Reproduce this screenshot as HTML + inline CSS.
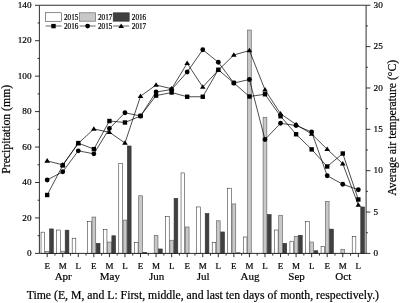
<!DOCTYPE html>
<html><head><meta charset="utf-8"><title>Precipitation and average air temperature</title>
<style>html,body{margin:0;padding:0;background:#fff}body{width:400px;height:303px;overflow:hidden}</style></head>
<body>
<svg width="400" height="303" viewBox="0 0 400 303" style="display:block">
<rect width="400" height="303" fill="#fff"/>
<rect x="41.03" y="232.13" width="3.70" height="21.27" fill="#ffffff" stroke="#000000" stroke-width="0.45"/>
<rect x="45.33" y="251.63" width="3.70" height="1.77" fill="#c8c8c8" stroke="#6a6a6a" stroke-width="0.7"/>
<rect x="49.63" y="228.94" width="3.70" height="24.46" fill="#404040" stroke="#303030" stroke-width="0.6"/>
<rect x="56.59" y="230.00" width="3.70" height="23.40" fill="#ffffff" stroke="#000000" stroke-width="0.45"/>
<rect x="60.89" y="251.27" width="3.70" height="2.13" fill="#c8c8c8" stroke="#6a6a6a" stroke-width="0.7"/>
<rect x="65.19" y="230.18" width="3.70" height="23.22" fill="#404040" stroke="#303030" stroke-width="0.6"/>
<rect x="72.14" y="238.16" width="3.70" height="15.24" fill="#ffffff" stroke="#000000" stroke-width="0.45"/>
<rect x="87.70" y="221.32" width="3.70" height="32.08" fill="#ffffff" stroke="#000000" stroke-width="0.45"/>
<rect x="92.00" y="217.06" width="3.70" height="36.34" fill="#c8c8c8" stroke="#6a6a6a" stroke-width="0.7"/>
<rect x="96.30" y="243.30" width="3.70" height="10.10" fill="#404040" stroke="#303030" stroke-width="0.6"/>
<rect x="103.26" y="229.47" width="3.70" height="23.93" fill="#ffffff" stroke="#000000" stroke-width="0.45"/>
<rect x="107.56" y="242.06" width="3.70" height="11.34" fill="#c8c8c8" stroke="#6a6a6a" stroke-width="0.7"/>
<rect x="111.86" y="235.76" width="3.70" height="17.64" fill="#404040" stroke="#303030" stroke-width="0.6"/>
<rect x="118.81" y="163.53" width="3.70" height="89.87" fill="#ffffff" stroke="#000000" stroke-width="0.45"/>
<rect x="123.11" y="220.08" width="3.70" height="33.32" fill="#c8c8c8" stroke="#6a6a6a" stroke-width="0.7"/>
<rect x="127.41" y="145.99" width="3.70" height="107.41" fill="#404040" stroke="#303030" stroke-width="0.6"/>
<rect x="134.37" y="242.77" width="3.70" height="10.63" fill="#ffffff" stroke="#000000" stroke-width="0.45"/>
<rect x="138.67" y="195.79" width="3.70" height="57.61" fill="#c8c8c8" stroke="#6a6a6a" stroke-width="0.7"/>
<rect x="142.97" y="252.34" width="3.70" height="1.06" fill="#404040" stroke="#303030" stroke-width="0.6"/>
<rect x="154.23" y="235.32" width="3.70" height="18.08" fill="#c8c8c8" stroke="#6a6a6a" stroke-width="0.7"/>
<rect x="158.53" y="248.97" width="3.70" height="4.43" fill="#404040" stroke="#303030" stroke-width="0.6"/>
<rect x="165.49" y="216.53" width="3.70" height="36.87" fill="#ffffff" stroke="#000000" stroke-width="0.45"/>
<rect x="169.79" y="240.28" width="3.70" height="13.12" fill="#c8c8c8" stroke="#6a6a6a" stroke-width="0.7"/>
<rect x="174.09" y="198.45" width="3.70" height="54.95" fill="#404040" stroke="#303030" stroke-width="0.6"/>
<rect x="181.04" y="172.93" width="3.70" height="80.47" fill="#ffffff" stroke="#000000" stroke-width="0.45"/>
<rect x="185.34" y="226.99" width="3.70" height="26.41" fill="#c8c8c8" stroke="#6a6a6a" stroke-width="0.7"/>
<rect x="196.60" y="206.96" width="3.70" height="46.44" fill="#ffffff" stroke="#000000" stroke-width="0.45"/>
<rect x="205.20" y="213.52" width="3.70" height="39.88" fill="#404040" stroke="#303030" stroke-width="0.6"/>
<rect x="212.16" y="242.77" width="3.70" height="10.63" fill="#ffffff" stroke="#000000" stroke-width="0.45"/>
<rect x="216.46" y="220.79" width="3.70" height="32.61" fill="#c8c8c8" stroke="#6a6a6a" stroke-width="0.7"/>
<rect x="220.76" y="231.95" width="3.70" height="21.45" fill="#404040" stroke="#303030" stroke-width="0.6"/>
<rect x="227.71" y="188.17" width="3.70" height="65.23" fill="#ffffff" stroke="#000000" stroke-width="0.45"/>
<rect x="232.01" y="203.95" width="3.70" height="49.45" fill="#c8c8c8" stroke="#6a6a6a" stroke-width="0.7"/>
<rect x="236.31" y="252.87" width="3.70" height="0.53" fill="#404040" stroke="#303030" stroke-width="0.6"/>
<rect x="243.27" y="237.00" width="3.70" height="16.40" fill="#ffffff" stroke="#000000" stroke-width="0.45"/>
<rect x="247.57" y="30.06" width="3.70" height="223.34" fill="#c8c8c8" stroke="#6a6a6a" stroke-width="0.7"/>
<rect x="263.13" y="117.45" width="3.70" height="135.95" fill="#c8c8c8" stroke="#6a6a6a" stroke-width="0.7"/>
<rect x="267.43" y="214.58" width="3.70" height="38.82" fill="#404040" stroke="#303030" stroke-width="0.6"/>
<rect x="274.39" y="230.00" width="3.70" height="23.40" fill="#ffffff" stroke="#000000" stroke-width="0.45"/>
<rect x="278.69" y="215.29" width="3.70" height="38.11" fill="#c8c8c8" stroke="#6a6a6a" stroke-width="0.7"/>
<rect x="282.99" y="243.30" width="3.70" height="10.10" fill="#404040" stroke="#303030" stroke-width="0.6"/>
<rect x="289.94" y="241.17" width="3.70" height="12.23" fill="#ffffff" stroke="#000000" stroke-width="0.45"/>
<rect x="294.24" y="236.56" width="3.70" height="16.84" fill="#c8c8c8" stroke="#6a6a6a" stroke-width="0.7"/>
<rect x="298.54" y="235.32" width="3.70" height="18.08" fill="#404040" stroke="#303030" stroke-width="0.6"/>
<rect x="305.50" y="221.32" width="3.70" height="32.08" fill="#ffffff" stroke="#000000" stroke-width="0.45"/>
<rect x="309.80" y="242.06" width="3.70" height="11.34" fill="#c8c8c8" stroke="#6a6a6a" stroke-width="0.7"/>
<rect x="314.10" y="250.74" width="3.70" height="2.66" fill="#404040" stroke="#303030" stroke-width="0.6"/>
<rect x="321.06" y="246.31" width="3.70" height="7.09" fill="#ffffff" stroke="#000000" stroke-width="0.45"/>
<rect x="325.36" y="201.47" width="3.70" height="51.93" fill="#c8c8c8" stroke="#6a6a6a" stroke-width="0.7"/>
<rect x="329.66" y="229.12" width="3.70" height="24.28" fill="#404040" stroke="#303030" stroke-width="0.6"/>
<rect x="340.91" y="249.32" width="3.70" height="4.08" fill="#c8c8c8" stroke="#6a6a6a" stroke-width="0.7"/>
<rect x="352.17" y="236.74" width="3.70" height="16.66" fill="#ffffff" stroke="#000000" stroke-width="0.45"/>
<rect x="360.77" y="206.96" width="3.70" height="46.44" fill="#404040" stroke="#303030" stroke-width="0.6"/>
<g stroke="#1a1a1a" stroke-width="0.9" fill="none">
<path d="M39.4 5.25H366.1V253.4H39.4Z"/>
<path d="M35.00 253.40H39.4"/>
<path d="M37.60 235.68H39.4"/>
<path d="M35.00 217.95H39.4"/>
<path d="M37.60 200.23H39.4"/>
<path d="M35.00 182.50H39.4"/>
<path d="M37.60 164.78H39.4"/>
<path d="M35.00 147.05H39.4"/>
<path d="M37.60 129.32H39.4"/>
<path d="M35.00 111.60H39.4"/>
<path d="M37.60 93.88H39.4"/>
<path d="M35.00 76.15H39.4"/>
<path d="M37.60 58.43H39.4"/>
<path d="M35.00 40.70H39.4"/>
<path d="M37.60 22.98H39.4"/>
<path d="M35.00 5.25H39.4"/>
<path d="M366.1 253.40h4.3"/>
<path d="M366.1 232.72h1.8"/>
<path d="M366.1 212.04h4.3"/>
<path d="M366.1 191.36h1.8"/>
<path d="M366.1 170.68h4.3"/>
<path d="M366.1 150.00h1.8"/>
<path d="M366.1 129.32h4.3"/>
<path d="M366.1 108.65h1.8"/>
<path d="M366.1 87.97h4.3"/>
<path d="M366.1 67.29h1.8"/>
<path d="M366.1 46.61h4.3"/>
<path d="M366.1 25.93h1.8"/>
<path d="M366.1 5.25h4.3"/>
<path d="M47.18 253.4v3.8"/>
<path d="M54.96 253.4v2.2"/>
<path d="M62.74 253.4v3.8"/>
<path d="M70.51 253.4v2.2"/>
<path d="M78.29 253.4v3.8"/>
<path d="M86.07 253.4v2.2"/>
<path d="M93.85 253.4v3.8"/>
<path d="M101.63 253.4v2.2"/>
<path d="M109.41 253.4v3.8"/>
<path d="M117.19 253.4v2.2"/>
<path d="M124.96 253.4v3.8"/>
<path d="M132.74 253.4v2.2"/>
<path d="M140.52 253.4v3.8"/>
<path d="M148.30 253.4v2.2"/>
<path d="M156.08 253.4v3.8"/>
<path d="M163.86 253.4v2.2"/>
<path d="M171.64 253.4v3.8"/>
<path d="M179.41 253.4v2.2"/>
<path d="M187.19 253.4v3.8"/>
<path d="M194.97 253.4v2.2"/>
<path d="M202.75 253.4v3.8"/>
<path d="M210.53 253.4v2.2"/>
<path d="M218.31 253.4v3.8"/>
<path d="M226.09 253.4v2.2"/>
<path d="M233.86 253.4v3.8"/>
<path d="M241.64 253.4v2.2"/>
<path d="M249.42 253.4v3.8"/>
<path d="M257.20 253.4v2.2"/>
<path d="M264.98 253.4v3.8"/>
<path d="M272.76 253.4v2.2"/>
<path d="M280.54 253.4v3.8"/>
<path d="M288.31 253.4v2.2"/>
<path d="M296.09 253.4v3.8"/>
<path d="M303.87 253.4v2.2"/>
<path d="M311.65 253.4v3.8"/>
<path d="M319.43 253.4v2.2"/>
<path d="M327.21 253.4v3.8"/>
<path d="M334.99 253.4v2.2"/>
<path d="M342.76 253.4v3.8"/>
<path d="M350.54 253.4v2.2"/>
<path d="M358.32 253.4v3.8"/>
</g>
<g stroke="#000" stroke-width="0.7" fill="none">
<polyline points="47.18,195.00 62.74,165.40 78.29,143.10 93.85,149.10 109.41,121.00 124.96,122.50 140.52,116.00 156.08,95.60 171.64,92.50 187.19,96.75 202.75,96.75 218.31,69.75 233.86,83.00 249.42,96.50 264.98,94.25 280.54,116.25 296.09,134.25 311.65,149.40 327.21,166.50 342.76,153.50 358.32,199.50"/>
<polyline points="47.18,180.00 62.74,171.75 78.29,150.80 93.85,153.80 109.41,128.50 124.96,112.75 140.52,116.00 156.08,92.00 171.64,89.50 187.19,72.00 202.75,49.75 218.31,62.25 233.86,83.00 249.42,79.50 264.98,139.50 280.54,123.25 296.09,125.50 311.65,132.00 327.21,175.75 342.76,184.25 358.32,189.75"/>
<polyline points="47.18,160.90 62.74,164.90 78.29,143.40 93.85,129.00 109.41,132.25 124.96,143.00 140.52,96.20 156.08,85.00 171.64,88.75 187.19,63.25 202.75,87.00 218.31,70.20 233.86,55.00 249.42,50.50 264.98,89.75 280.54,113.75 296.09,124.50 311.65,134.00 327.21,149.25 342.76,163.75 358.32,205.00"/>
</g>
<g fill="#000">
<rect x="44.98" y="192.80" width="4.4" height="4.4"/>
<rect x="60.54" y="163.20" width="4.4" height="4.4"/>
<rect x="76.09" y="140.90" width="4.4" height="4.4"/>
<rect x="91.65" y="146.90" width="4.4" height="4.4"/>
<rect x="107.21" y="118.80" width="4.4" height="4.4"/>
<rect x="122.76" y="120.30" width="4.4" height="4.4"/>
<rect x="138.32" y="113.80" width="4.4" height="4.4"/>
<rect x="153.88" y="93.40" width="4.4" height="4.4"/>
<rect x="169.44" y="90.30" width="4.4" height="4.4"/>
<rect x="184.99" y="94.55" width="4.4" height="4.4"/>
<rect x="200.55" y="94.55" width="4.4" height="4.4"/>
<rect x="216.11" y="67.55" width="4.4" height="4.4"/>
<rect x="231.66" y="80.80" width="4.4" height="4.4"/>
<rect x="247.22" y="94.30" width="4.4" height="4.4"/>
<rect x="262.78" y="92.05" width="4.4" height="4.4"/>
<rect x="278.34" y="114.05" width="4.4" height="4.4"/>
<rect x="293.89" y="132.05" width="4.4" height="4.4"/>
<rect x="309.45" y="147.20" width="4.4" height="4.4"/>
<rect x="325.01" y="164.30" width="4.4" height="4.4"/>
<rect x="340.56" y="151.30" width="4.4" height="4.4"/>
<rect x="356.12" y="197.30" width="4.4" height="4.4"/>
<circle cx="47.18" cy="180.00" r="2.4"/>
<circle cx="62.74" cy="171.75" r="2.4"/>
<circle cx="78.29" cy="150.80" r="2.4"/>
<circle cx="93.85" cy="153.80" r="2.4"/>
<circle cx="109.41" cy="128.50" r="2.4"/>
<circle cx="124.96" cy="112.75" r="2.4"/>
<circle cx="140.52" cy="116.00" r="2.4"/>
<circle cx="156.08" cy="92.00" r="2.4"/>
<circle cx="171.64" cy="89.50" r="2.4"/>
<circle cx="187.19" cy="72.00" r="2.4"/>
<circle cx="202.75" cy="49.75" r="2.4"/>
<circle cx="218.31" cy="62.25" r="2.4"/>
<circle cx="233.86" cy="83.00" r="2.4"/>
<circle cx="249.42" cy="79.50" r="2.4"/>
<circle cx="264.98" cy="139.50" r="2.4"/>
<circle cx="280.54" cy="123.25" r="2.4"/>
<circle cx="296.09" cy="125.50" r="2.4"/>
<circle cx="311.65" cy="132.00" r="2.4"/>
<circle cx="327.21" cy="175.75" r="2.4"/>
<circle cx="342.76" cy="184.25" r="2.4"/>
<circle cx="358.32" cy="189.75" r="2.4"/>
<path d="M47.18 158.10L49.98 162.70H44.38Z"/>
<path d="M62.74 162.10L65.54 166.70H59.94Z"/>
<path d="M78.29 140.60L81.09 145.20H75.49Z"/>
<path d="M93.85 126.20L96.65 130.80H91.05Z"/>
<path d="M109.41 129.45L112.21 134.05H106.61Z"/>
<path d="M124.96 140.20L127.76 144.80H122.16Z"/>
<path d="M140.52 93.40L143.32 98.00H137.72Z"/>
<path d="M156.08 82.20L158.88 86.80H153.28Z"/>
<path d="M171.64 85.95L174.44 90.55H168.84Z"/>
<path d="M187.19 60.45L189.99 65.05H184.39Z"/>
<path d="M202.75 84.20L205.55 88.80H199.95Z"/>
<path d="M218.31 67.40L221.11 72.00H215.51Z"/>
<path d="M233.86 52.20L236.66 56.80H231.06Z"/>
<path d="M249.42 47.70L252.22 52.30H246.62Z"/>
<path d="M264.98 86.95L267.78 91.55H262.18Z"/>
<path d="M280.54 110.95L283.34 115.55H277.74Z"/>
<path d="M296.09 121.70L298.89 126.30H293.29Z"/>
<path d="M311.65 131.20L314.45 135.80H308.85Z"/>
<path d="M327.21 146.45L330.01 151.05H324.41Z"/>
<path d="M342.76 160.95L345.56 165.55H339.96Z"/>
<path d="M358.32 202.20L361.12 206.80H355.52Z"/>
</g>
<g stroke-width="0.6">
<rect x="45.4" y="12.8" width="16.2" height="8.4" fill="#fff" stroke="#000" stroke-width="0.45"/>
<rect x="79.6" y="12.8" width="16" height="8.4" fill="#c8c8c8" stroke="#6a6a6a" stroke-width="0.7"/>
<rect x="113.2" y="12.8" width="16" height="8.4" fill="#404040" stroke="#303030"/>
<path d="M45.6 26H61.6M79.6 26H95.6M113.2 26H129.2" stroke="#000"/>
</g>
<rect x="51.3" y="23.9" width="4.4" height="4.4"/>
<circle cx="87.6" cy="26.1" r="2.4"/>
<path d="M121.20 23.50L124.00 28.10H118.40Z"/>
<g font-family="'Liberation Serif', serif" fill="#000" stroke="#000" stroke-width="0.2">
<g font-size="7.2">
<text x="64" y="19.6">2015</text>
<text x="98" y="19.6">2017</text>
<text x="131.8" y="19.6">2016</text>
<text x="64" y="28.5">2016</text>
<text x="98" y="28.5">2015</text>
<text x="131.8" y="28.5">2017</text>
</g>
<g font-size="9.2" text-anchor="end">
<text x="31.5" y="256.00">0</text>
<text x="31.5" y="220.55">20</text>
<text x="31.5" y="185.10">40</text>
<text x="31.5" y="149.65">60</text>
<text x="31.5" y="114.20">80</text>
<text x="31.5" y="78.75">100</text>
<text x="31.5" y="43.30">120</text>
<text x="31.5" y="7.85">140</text>
</g>
<g font-size="9.2">
<text x="373.6" y="256.10">0</text>
<text x="373.6" y="214.74">5</text>
<text x="373.6" y="173.38">10</text>
<text x="373.6" y="132.02">15</text>
<text x="373.6" y="90.67">20</text>
<text x="373.6" y="49.31">25</text>
<text x="373.6" y="7.95">30</text>
</g>
<g font-size="9" text-anchor="middle">
<text x="47.18" y="268.7">E</text>
<text x="62.74" y="268.7">M</text>
<text x="78.29" y="268.7">L</text>
<text x="93.85" y="268.7">E</text>
<text x="109.41" y="268.7">M</text>
<text x="124.96" y="268.7">L</text>
<text x="140.52" y="268.7">E</text>
<text x="156.08" y="268.7">M</text>
<text x="171.64" y="268.7">L</text>
<text x="187.19" y="268.7">E</text>
<text x="202.75" y="268.7">M</text>
<text x="218.31" y="268.7">L</text>
<text x="233.86" y="268.7">E</text>
<text x="249.42" y="268.7">M</text>
<text x="264.98" y="268.7">L</text>
<text x="280.54" y="268.7">E</text>
<text x="296.09" y="268.7">M</text>
<text x="311.65" y="268.7">L</text>
<text x="327.21" y="268.7">E</text>
<text x="342.76" y="268.7">M</text>
<text x="358.32" y="268.7">L</text>
</g>
<g font-size="11" text-anchor="middle">
<text x="63.24" y="280">Apr</text>
<text x="109.91" y="280">May</text>
<text x="156.58" y="280">Jun</text>
<text x="203.25" y="280">Jul</text>
<text x="249.92" y="280">Aug</text>
<text x="296.59" y="280">Sep</text>
<text x="343.26" y="280">Oct</text>
</g>
<text x="26.7" y="299.1" font-size="11.7" textLength="352.3" lengthAdjust="spacingAndGlyphs">Time (E, M, and L: First, middle, and last ten days of month, respectively.)</text>
<text transform="translate(10.2 173.8) rotate(-90)" font-size="11.7" textLength="89" lengthAdjust="spacingAndGlyphs">Precipitation (mm)</text>
<text transform="translate(396 195.8) rotate(-90)" font-size="11.7" textLength="136" lengthAdjust="spacingAndGlyphs">Average air temperature (°C)</text>
</g>
</svg>
</body></html>
